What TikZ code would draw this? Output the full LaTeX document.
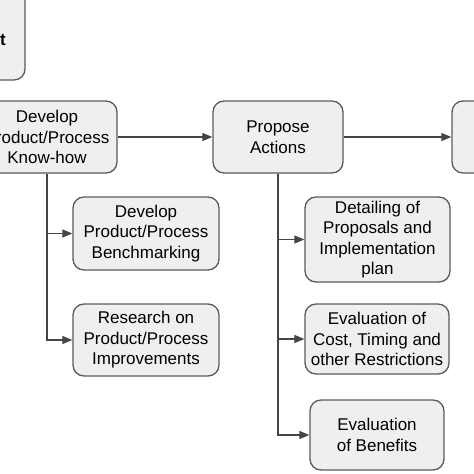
\documentclass[tikz,border=0pt]{standalone}
\usepackage{fontspec}
\setmainfont{Liberation Sans}
\usetikzlibrary{arrows.meta}
\definecolor{boxfill}{HTML}{EFEFEF}
\definecolor{boxline}{HTML}{5A5A5A}
\definecolor{arrline}{HTML}{454545}
\tikzset{
	box/.style={draw=boxline, fill=boxfill, line width=1.3pt, rounded corners=11pt,
		align=center, inner sep=0pt, font=\fontsize{17}{20.5}\selectfont},
	link/.style={draw=arrline, line width=1.2pt, -{Triangle[length=10pt,width=8pt]}},
}

\begin{document}
\begin{tikzpicture}[x=1pt,y=-1pt]
	\useasboundingbox (0,0) rectangle (474,474);
	\clip (0,0) rectangle (474,474);
	
	%nodes
	\node[box, minimum width=160pt, minimum height=100pt] (top) at (-55,30) {};
	\node[font=\fontsize{17}{20.5}\selectfont\bfseries] (toptext) at (3,40) {t};
	\node[box, minimum width=140pt, minimum height=72pt] (kh) at (47,137)
		{Develop\\Product/Process\\Know-how};
	\node[box, minimum width=130pt, minimum height=72pt] (pa) at (278,137)
		{Propose\\Actions};
	\node[box, minimum width=140pt, minimum height=72pt] (next) at (522,137) {};
	\node[box, minimum width=146pt, minimum height=73pt] (bench) at (146,233.5)
		{Develop\\Product/Process\\Benchmarking};
	\node[box, minimum width=146pt, minimum height=72pt] (research) at (146,340)
		{Research on\\Product/Process\\Improvements};
	\node[box, minimum width=145pt, minimum height=85pt] (detail) at (377.5,239.5)
		{Detailing of\\Proposals and\\Implementation\\plan};
	\node[box, minimum width=144pt, minimum height=70pt] (cost) at (377,339)
		{Evaluation of\\Cost, Timing and\\other Restrictions};
	\node[box, minimum width=134pt, minimum height=70pt] (benefit) at (377,435)
		{Evaluation\\of Benefits};
	
	%lines
	\draw[link] (kh) -- (pa);					%kh--pa
	\draw[link] (pa) -- (next);				%pa--next
	\draw[link] (kh.south) |- (bench.west);		%kh--bench
	\draw[link] (kh.south) |- (research.west);	%kh--research
	\draw[link] (pa.south) |- (detail.west);		%pa--detail
	\draw[link] (pa.south) |- (cost.west);		%pa--cost
	\draw[link] (pa.south) |- (benefit.west);	%pa--benefit
	
\end{tikzpicture}
\end{document}
